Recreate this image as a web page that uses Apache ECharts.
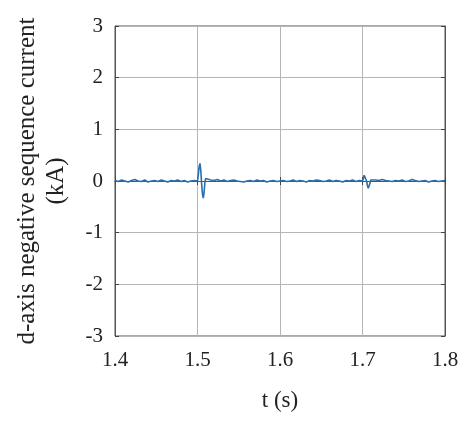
<!DOCTYPE html>
<html><head><meta charset="utf-8">
<script src="https://cdn.jsdelivr.net/npm/echarts@6/dist/echarts.min.js"></script>
<style>html,body{margin:0;padding:0;background:#fff}#c{width:474px;height:427px}</style>
</head><body><div id="c"></div>
<script>
const seg1Time = [1.400,1.404,1.408,1.412,1.416,1.420,1.424,1.428,1.432,1.436,1.440,1.444,1.448,1.452,1.456,1.460,1.464,1.468,1.472,1.476,1.480,1.484,1.488,1.492,1.496,1.500];
const seg1Value = [0.01,-0.01,0.02,0.00,-0.02,0.01,0.03,0.00,-0.01,0.02,-0.02,0.00,0.01,-0.01,0.02,0.00,-0.02,0.01,0.00,0.02,-0.01,0.01,-0.02,0.00,0.01,0.00];
const spike1Time = [1.501,1.502,1.503,1.504,1.505,1.506,1.507,1.508,1.509,1.510,1.512];
const spike1Value = [0.12,0.28,0.34,0.20,-0.05,-0.25,-0.33,-0.22,-0.02,0.05,0.02];
const seg2Time = [1.516,1.520,1.524,1.528,1.532,1.536,1.540,1.544,1.548,1.552,1.556,1.560,1.564,1.568,1.572,1.576,1.580,1.584,1.588,1.592,1.596,1.600,1.604,1.608,1.612,1.616,1.620,1.624,1.628,1.632,1.636,1.640,1.644,1.648,1.652,1.656,1.660,1.664,1.668,1.672,1.676,1.680,1.684,1.688,1.692,1.696,1.700];
const seg2Value = [0.02,0.01,0.03,0.00,0.02,-0.01,0.01,0.02,0.00,-0.01,-0.02,0.00,0.01,-0.01,0.02,0.00,0.01,-0.02,0.00,0.01,-0.01,0.00,0.01,-0.01,0.00,0.02,-0.01,0.01,0.00,-0.02,0.01,0.00,0.02,0.01,-0.01,0.00,0.02,-0.01,0.01,0.00,-0.02,0.01,0.00,0.02,-0.01,0.01,0.00];
const spike2Time = [1.701,1.702,1.703,1.704,1.705,1.706,1.707,1.708,1.709,1.710,1.712];
const spike2Value = [0.05,0.11,0.14,0.09,0.00,-0.09,-0.14,-0.12,-0.05,0.02,0.03];
const seg3Time = [1.716,1.720,1.724,1.728,1.732,1.736,1.740,1.744,1.748,1.752,1.756,1.760,1.764,1.768,1.772,1.776,1.780,1.784,1.788,1.792,1.796,1.800];
const seg3Value = [0.02,0.01,0.03,0.01,0.00,-0.01,0.01,0.00,0.02,-0.01,0.00,0.03,0.01,-0.01,0.00,0.01,-0.02,0.00,0.01,-0.01,0.00,0.01];
const xTicks = [1.4,1.5,1.6,1.7,1.8];
const yTicks = [-3,-2,-1,0,1,2,3];

const times = [].concat(seg1Time, spike1Time, seg2Time, spike2Time, seg3Time);
const values = [].concat(seg1Value, spike1Value, seg2Value, spike2Value, seg3Value);
const data = times.map((t, i) => [t, values[i]]);

const font = '"Liberation Serif", "DejaVu Serif", serif';
const chart = echarts.init(document.getElementById('c'), null, {renderer: 'canvas'});
const tick = {show: true, inside: true, length: 4, lineStyle: {color: '#444'}};
chart.setOption({
  animation: false,
  grid: {left: 115, right: 29, top: 26, bottom: 91, show: true, borderColor: '#555', borderWidth: 1},
  xAxis: [{
    type: 'value', min: xTicks[0], max: xTicks[xTicks.length - 1], interval: 0.1,
    name: 't (s)', nameLocation: 'middle', nameGap: 53,
    nameTextStyle: {fontFamily: font, fontSize: 23, color: '#222'},
    axisLine: {show: true, lineStyle: {color: '#555'}},
    axisTick: tick,
    axisLabel: {fontFamily: font, fontSize: 21, color: '#222', margin: 14, formatter: v => v.toFixed(1)},
    splitLine: {show: true, lineStyle: {color: '#b5b5b5', width: 1}}
  }, {
    type: 'value', position: 'top', min: xTicks[0], max: xTicks[xTicks.length - 1], interval: 0.1,
    axisLine: {show: true, lineStyle: {color: '#555'}}, axisTick: tick, axisLabel: {show: false}, splitLine: {show: false}
  }],
  yAxis: [{
    type: 'value', min: yTicks[0], max: yTicks[yTicks.length - 1], interval: 1,
    name: 'd-axis negative sequence current\n(kA)', nameLocation: 'middle', nameGap: 44,
    nameTextStyle: {fontFamily: font, fontSize: 25, color: '#222', lineHeight: 29},
    axisLine: {show: true, lineStyle: {color: '#555'}},
    axisTick: tick,
    axisLabel: {fontFamily: font, fontSize: 21, color: '#222', margin: 12},
    splitLine: {show: true, lineStyle: {color: '#b5b5b5', width: 1}}
  }, {
    type: 'value', position: 'right', min: yTicks[0], max: yTicks[yTicks.length - 1], interval: 1,
    axisLine: {show: true, lineStyle: {color: '#555'}}, axisTick: tick, axisLabel: {show: false}, splitLine: {show: false}
  }],
  series: [{
    type: 'line', data: data, showSymbol: false, smooth: false,
    lineStyle: {color: '#2a6fac', width: 1.6}
  }]
});
</script></body></html>
